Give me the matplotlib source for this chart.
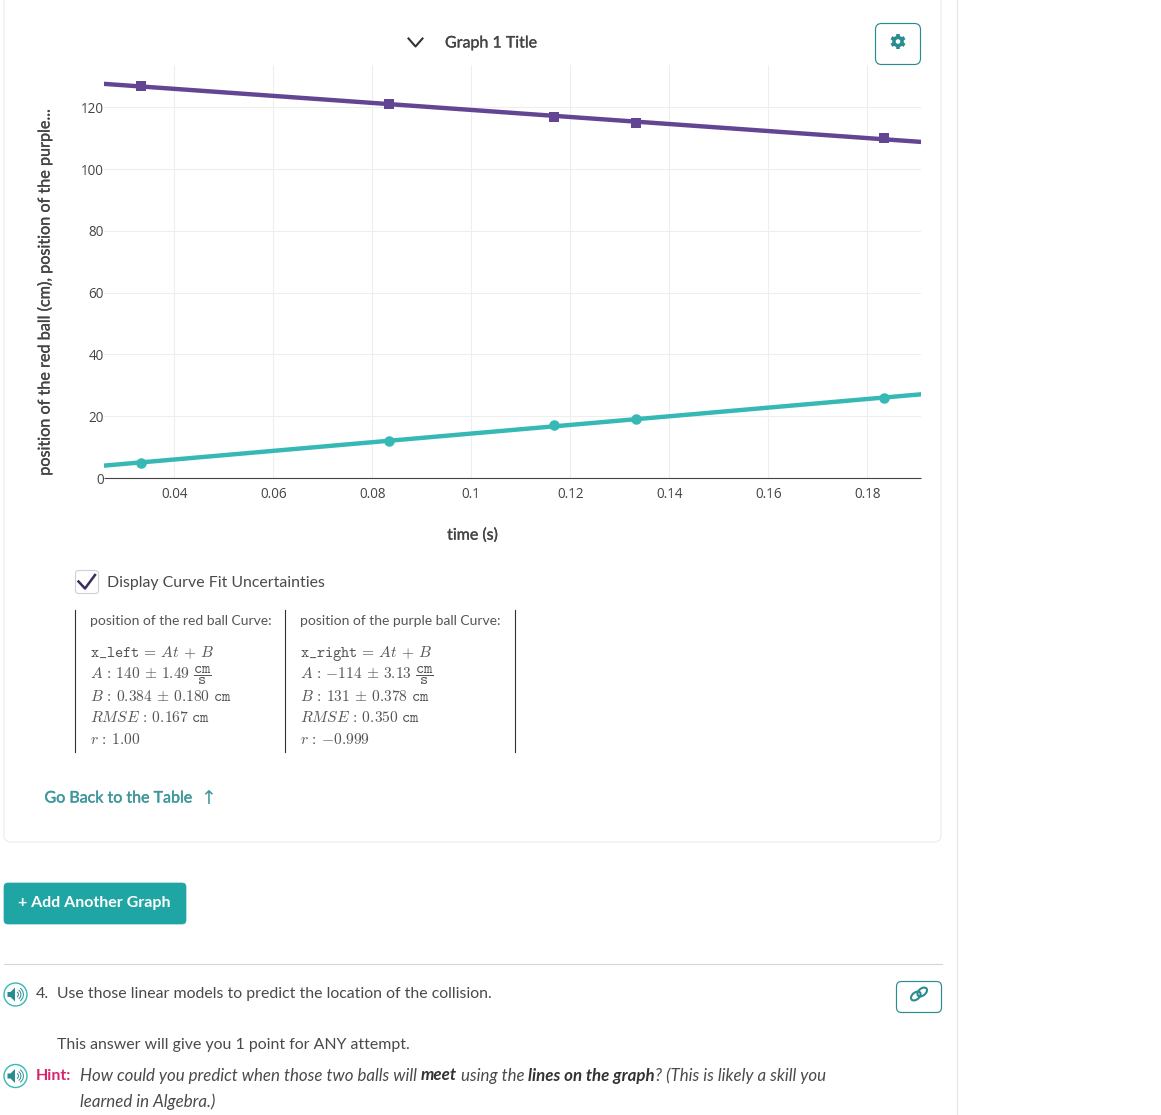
import matplotlib
matplotlib.use("Agg")
import matplotlib.pyplot as plt
from matplotlib.patches import FancyBboxPatch, Circle, Polygon, Ellipse
import matplotlib.patheffects as pe
import numpy as np

# ---- data ----
time_s = [0.0333, 0.0833, 0.1167, 0.1333, 0.1833]
red_ball = [5, 12, 17, 19, 26]
purple_ball = [127, 121, 117, 115, 110]
fit_time = [0.0258, 0.1909]
red_fit = [4.0, 27.1]
purple_fit = [127.6, 108.8]
x_ticks = [0.04, 0.06, 0.08, 0.1, 0.12, 0.14, 0.16, 0.18]
x_tick_labels = ["0.04", "0.06", "0.08", "0.1", "0.12", "0.14", "0.16", "0.18"]
y_ticks = [0, 20, 40, 60, 80, 100, 120]

W, H = 1161, 1115
TEAL = "#36b8b5"
PURPLE = "#634593"
BTN = "#1fa5a3"
DARKTEAL = "#2a8c8f"
LINKTEAL = "#3f979c"
TXT = "#4a4a4a"
THICK = [pe.withStroke(linewidth=0.2, foreground="#444444")]

plt.rcParams["font.family"] = ["Lato", "DejaVu Sans"]
plt.rcParams["mathtext.fontset"] = "cm"

fig = plt.figure(figsize=(W / 100, H / 100), dpi=100, facecolor="white")

pg = fig.add_axes([0, 0, 1, 1], zorder=0)
pg.set_xlim(0, W)
pg.set_ylim(H, 0)
pg.axis("off")


def px(v):
    return v * 0.72


def T(x, y, s, size=16, color=TXT, **kw):
    kw.setdefault("va", "center")
    kw.setdefault("ha", "left")
    return pg.text(x, y, s, fontsize=px(size), color=color, **kw)


def rich(x, y, pieces, size=16):
    r = fig.canvas.get_renderer()
    for s, kw in pieces:
        t = T(x, y, s.replace(" ", "\u00a0"), size=size, **kw)
        bb = t.get_window_extent(r)
        x = pg.transData.inverted().transform((bb.x1, bb.y0))[0]
    return x


def rbox(x0, y0, x1, y1, r=5, fc="white", ec="#2a8c8f", lw=0.85, z=1):
    p = FancyBboxPatch((x0 + r, y0 + r), x1 - x0 - 2 * r, y1 - y0 - 2 * r,
                       boxstyle=f"round,pad={r},rounding_size={r}",
                       fc=fc, ec=ec, lw=lw, zorder=z)
    pg.add_patch(p)


def speaker(cx, cy):
    pg.add_patch(Circle((cx, cy), 11.5, fc="white", ec=TEAL, lw=1.0, zorder=3))
    pg.add_patch(Polygon([(cx - 8, cy - 2.5), (cx - 5, cy - 2.5), (cx - 0.5, cy - 7),
                          (cx - 0.5, cy + 7), (cx - 5, cy + 2.5), (cx - 8, cy + 2.5)],
                         fc=DARKTEAL, ec="none", zorder=4))
    for rr in (3, 5.5, 8):
        a = np.radians(np.array([-50, -25, 0, 25, 50]))
        pg.plot(cx + rr * np.cos(a), cy + rr * np.sin(a), color=DARKTEAL, lw=0.7, zorder=4)


# card and page rules
rbox(4, -30, 941, 842, r=7, ec="#eceff1", lw=1.0, z=0)
pg.plot([957, 957], [0, H], color="#e4e4e4", lw=0.8)
pg.plot([4, 942], [964, 964], color="#d4d4d4", lw=0.8)

# title row
pg.plot([408.5, 415.5, 422.5], [38.5, 46.5, 38.5], color="#333333", lw=1.5)
T(445, 43.5, "Graph 1 Title", size=16, color="#444444", path_effects=THICK)

# settings button
rbox(875.5, 23.5, 920.5, 64.5, r=6)
pg.add_patch(Circle((898, 41.5), 5.8, fc=DARKTEAL, ec="none", zorder=3))
for a in np.radians(np.arange(30, 360, 60)):
    pg.plot([898, 898 + 7.6 * np.cos(a)], [41.5, 41.5 + 7.6 * np.sin(a)],
            color=DARKTEAL, lw=2.6, zorder=3, solid_capstyle="butt")
pg.add_patch(Circle((898, 41.5), 2.3, fc="white", ec="none", zorder=4))

# axis captions
T(45, 292, "position of the red ball (cm), position of the purple...", size=16.2,
  rotation=90, ha="center", color="#444444", path_effects=THICK)
T(472.5, 535.5, "time (s)", size=16, ha="center", color="#444444", path_effects=THICK)

# checkbox row
rbox(75.5, 570.5, 98.5, 593.5, r=3, ec="#cfcfd6", lw=0.8)
pg.plot([78.5, 85, 95], [581.5, 588.5, 575], color="#3b2d5c", lw=1.8, zorder=3)
T(107, 583, "Display Curve Fit Uncertainties", size=15.85)

# fit table
for xl in (75, 285, 515):
    pg.plot([xl, xl], [610, 752], color="#333333", lw=0.8)
T(90, 621, "position of the red ball Curve:", size=13.85, color="#555555")
T(300.5, 621, "position of the purple ball Curve:", size=13.85, color="#555555")
MC = "#555555"
left_lines = [r"$\mathtt{x\_left}\,=\,At\,+\,B$",
              r"$A\,:\,140\,\pm\,1.49\,\,\dfrac{\mathtt{cm}}{\mathtt{s}}$",
              r"$B\,:\,0.384\,\pm\,0.180\,\,\mathtt{cm}$",
              r"$RMSE\,:\,0.167\,\,\mathtt{cm}$",
              r"$r\,:\,1.00$"]
right_lines = [r"$\mathtt{x\_right}\,=\,At\,+\,B$",
               r"$A\,:\,{-}114\,\pm\,3.13\,\,\dfrac{\mathtt{cm}}{\mathtt{s}}$",
               r"$B\,:\,131\,\pm\,0.378\,\,\mathtt{cm}$",
               r"$RMSE\,:\,0.350\,\,\mathtt{cm}$",
               r"$r\,:\,{-}0.999$"]
baselines = [657, 679, 701, 722, 744]
for yy, a, b in zip(baselines, left_lines, right_lines):
    T(90, yy, a, size=15.5, color=MC, va="baseline")
    T(300.5, yy, b, size=15.5, color=MC, va="baseline")

# link back
LINK_FX = [pe.withStroke(linewidth=0.3, foreground=LINKTEAL)]
T(44.5, 798.5, "Go Back to the Table", size=16, color=LINKTEAL, path_effects=LINK_FX)
T(208, 798, "\u2191", size=19, color=LINKTEAL, ha="center", family="DejaVu Sans")

# add graph button
rbox(4, 883, 186, 924, r=4, fc=BTN, ec=BTN, lw=0.5)
T(18, 903.5, "+ Add Another Graph", size=16, color="white", fontweight="bold", zorder=5)

# question text
speaker(15.5, 994.5)
T(35.5, 994, "4.", size=16)
T(57, 994, "Use those linear models to predict the location of the collision.", size=15.95)
T(57, 1045, "This answer will give you 1 point for ANY attempt.", size=15.85)

# link icon button
rbox(896.5, 981.5, 941.5, 1012.5, r=5)
for dx, dy in ((-3.2, 2), (3.2, -2)):
    pg.add_patch(Ellipse((919 + dx, 994 + dy), 11, 7, angle=-40, fc="none",
                         ec=DARKTEAL, lw=1.5, zorder=3))

# hint
speaker(15.5, 1076)
T(35.5, 1075.5, "Hint:", size=16, color="#d6246e", fontweight="bold")
fig.canvas.draw()
HINT = 16.9
rich(80, 1075.5, [
    ("How could you predict when those two balls will ", dict(style="italic")),
    ("meet", dict(style="italic", fontweight="bold", color="#333333")),
    (" using the ", dict(style="italic")),
    ("lines on the graph", dict(style="italic", fontweight="bold", color="#333333")),
    ("? (This is likely a skill you", dict(style="italic")),
], size=HINT)
T(80, 1101.5, "learned in Algebra.)", size=HINT, style="italic")

# chart
ax = fig.add_axes([104 / W, 1 - 478 / H, (921 - 104) / W, (478 - 65) / H], zorder=2)
ax.patch.set_alpha(0)
ax.set_xlim(0.02582, 0.19086)
ax.set_ylim(0, 133.7)
for s in ("top", "left", "right"):
    ax.spines[s].set_visible(False)
ax.spines["bottom"].set_color("#444444")
ax.spines["bottom"].set_linewidth(0.8)
ax.spines["bottom"].set_capstyle("butt")
ax.set_xticks(x_ticks, x_tick_labels)
ax.set_yticks(y_ticks)
ax.tick_params(axis="both", length=0, labelsize=px(13.5), labelcolor="#444444")
ax.tick_params(axis="x", pad=6.5)
ax.tick_params(axis="y", pad=0.3)
for lab in ax.get_xticklabels() + ax.get_yticklabels():
    lab.set_family(["Open Sans", "DejaVu Sans"])
ax.grid(True, color="#eeeeee", lw=0.75)
ax.set_axisbelow(True)
ax.plot(fit_time, red_fit, color=TEAL, lw=px(4.4), solid_capstyle="butt", zorder=3)
ax.plot(fit_time, purple_fit, color=PURPLE, lw=px(4.4), solid_capstyle="butt", zorder=3)
ax.plot(time_s, red_ball, ls="none", marker="o", ms=px(10.5), mfc=TEAL, mec=TEAL, mew=0, zorder=4)
ax.plot(time_s, purple_ball, ls="none", marker="s", ms=px(10.5), mfc=PURPLE, mec=PURPLE, mew=0, zorder=4)

fig.savefig("out.png", dpi=100)
